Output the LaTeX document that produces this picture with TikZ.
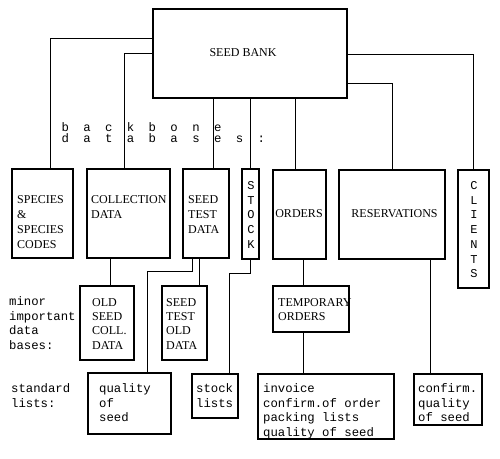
\documentclass[tikz,border=0pt]{standalone}
\usepackage{fontspec}
\setmainfont{Liberation Serif}
\newfontfamily\monof{Liberation Mono}
\usetikzlibrary{calc}
\newcommand\spreadl[1]{\makebox[21.8pt][l]{#1}}
\tikzset{
  box/.style={draw=black, line width=1.8pt, inner sep=0pt, outer sep=0pt, minimum width=#1},
  box/.default=10pt,
  conn/.style={draw=black, line width=0.8pt},
  caps/.style={inner sep=0pt, align=left, anchor=base west, font=\fontsize{12}{15}\selectfont},
  capsb/.style={inner sep=0pt, align=left, anchor=base west, font=\fontsize{12}{14.4}\selectfont},
  mono/.style={inner sep=0pt, align=left, anchor=base west, font=\monof\fontsize{12.3}{14.5}\selectfont},
  vert/.style={inner sep=0pt, align=center, anchor=base, font=\monof\fontsize{12}{14.6}\selectfont},
  spread/.style={inner sep=0pt, anchor=base west, font=\monof\fontsize{12.3}{12}\selectfont},
}
\begin{document}
\begin{tikzpicture}[x=1pt,y=-1pt]
\useasboundingbox (0,0) rectangle (500,458);
% boxes
\node[box=194pt, minimum height=89pt, line width=2.4pt] (sb) at (250,53.5) {};
\node[box=61pt, minimum height=89pt] (sp) at (42.5,213.5) {};
\node[box=83pt, minimum height=89pt] (col) at (128.5,213.5) {};
\node[box=46pt, minimum height=89pt] (st) at (206,213.5) {};
\node[box=17pt, minimum height=90pt] (stk) at (250.5,214) {};
\node[box=53pt, minimum height=89pt] (ord) at (299.5,214.5) {};
\node[box=106pt, minimum height=89pt] (res) at (392,214.5) {};
\node[box=31pt, minimum height=118pt] (cli) at (473.5,229) {};
\node[box=54pt, minimum height=74pt] (old) at (107,323) {};
\node[box=45pt, minimum height=74pt] (sto) at (184.5,323) {};
\node[box=76pt, minimum height=46pt] (tmp) at (311,309) {};
\node[box=83pt, minimum height=61pt] (qual) at (129.5,403.5) {};
\node[box=46pt, minimum height=44pt] (sl) at (215,396) {};
\node[box=136pt, minimum height=65pt] (inv) at (326,406.5) {};
\node[box=68pt, minimum height=51pt] (conf) at (448,399.5) {};
% texts (base anchor = baseline of last line)
\node[inner sep=0pt, font=\fontsize{12}{15}\selectfont] (tsb) at (243,53) {SEED BANK};
\node[caps] (tsp) at (17,248) {SPECIES\\\&\\SPECIES\\CODES};
\node[caps] (tcol) at (91,218) {COLLECTION\\DATA};
\node[caps] (tst) at (188,233) {SEED\\TEST\\DATA};
\node[vert] (tstk) at (251,248) {S\\T\\O\\C\\K};
\node[inner sep=0pt, font=\fontsize{12}{15}\selectfont] (tord) at (299,214) {ORDERS};
\node[inner sep=0pt, font=\fontsize{12}{15}\selectfont] (tres) at (394.5,214) {RESERVATIONS};
\node[vert, font=\monof\fontsize{12}{14.7}\selectfont] (tcli) at (474,277.7) {C\\L\\I\\E\\N\\T\\S};
\node[capsb] (told) at (92,349.2) {OLD\\SEED\\COLL.\\DATA};
\node[capsb] (tsto) at (166,349.2) {SEED\\TEST\\OLD\\DATA};
\node[capsb] (ttmp) at (278,320.4) {TEMPORARY\\ORDERS};
\node[mono] (tminor) at (9,349) {minor\\important\\data\\bases:};
\node[mono] (tstd) at (11,407) {standard\\lists:};
\node[mono] (tqual) at (99,421.5) {quality\\of\\seed};
\node[mono] (tsl) at (196,407) {stock\\lists};
\node[mono] (tinv) at (263,436) {invoice\\confirm.of order\\packing lists\\quality of seed};
\node[mono] (tconf) at (418,421.5) {confirm.\\quality\\of seed};
\node[spread] (bb1) at (61.3,131) {\spreadl{b}\spreadl{a}\spreadl{c}\spreadl{k}\spreadl{b}\spreadl{o}\spreadl{n}\spreadl{e}};
\node[spread] (bb2) at (61.3,142.5) {\spreadl{d}\spreadl{a}\spreadl{t}\spreadl{a}\spreadl{b}\spreadl{a}\spreadl{s}\spreadl{e}\spreadl{s}:};
% connectors
\draw[conn] ($(sb.north west)+(0,29)$) -| ($(sp.north west)+(38,0)$);
\draw[conn] ($(sb.north west)+(0,44)$) -| ($(col.north west)+(37,0)$);
\draw[conn] ($(sb.south west)+(60,0)$) -- ($(st.north west)+(30,0)$);
\draw[conn] (stk.north |- sb.south) -- (stk.north);
\draw[conn] ($(sb.south west)+(142,0)$) -- ($(ord.north west)+(22,0)$);
\draw[conn] ($(sb.north east)+(0,74)$) -| (res.north);
\draw[conn] ($(sb.north east)+(0,45)$) -| (cli.north);
\draw[conn] ($(col.south west)+(23,0)$) -- ($(old.north west)+(30,0)$);
\draw[conn] ($(st.south west)+(16,0)$) -- ($(sto.north west)+(37,0)$);
\draw[conn] ($(st.south west)+(9,0)$) -- ++(0,13) -| ($(qual.north west)+(59,0)$);
\draw[conn] (stk.south) -- ++(0,14) -| ($(sl.north west)+(37,0)$);
\draw[conn] ($(ord.south west)+(30,0)$) -- ($(tmp.north west)+(30,0)$);
\draw[conn] ($(tmp.south west)+(30,0)$) -- ($(inv.north west)+(45,0)$);
\draw[conn] ($(res.south west)+(91,0)$) -- ($(conf.north west)+(16,0)$);
\end{tikzpicture}
\end{document}
